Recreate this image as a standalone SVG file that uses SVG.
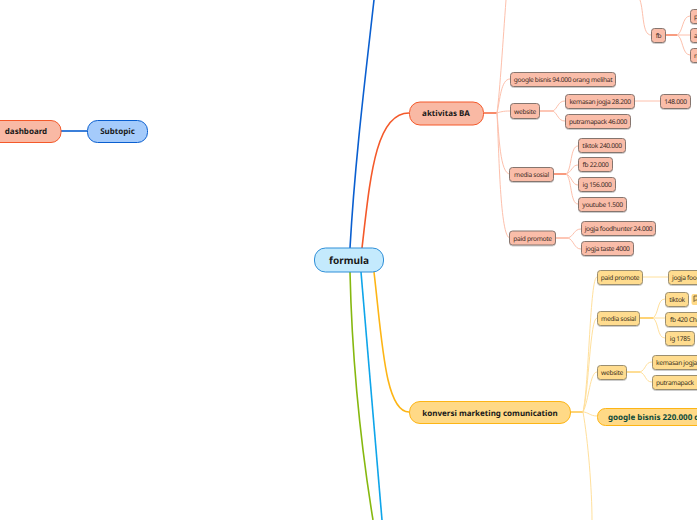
<svg xmlns="http://www.w3.org/2000/svg" width="697" height="520" viewBox="0 0 697 520">
<defs>
<filter id="sh" x="-10%" y="-20%" width="120%" height="150%"><feDropShadow dx="0" dy="1" stdDeviation="0.6" flood-color="#000" flood-opacity="0.2"/></filter>
</defs>
<style>
text{font-family:"Noto Sans","Open Sans","DejaVu Sans",sans-serif;text-anchor:middle;dominant-baseline:central;text-rendering:geometricPrecision}
.s rect{fill:#fabda9;stroke:#85746e;stroke-width:1;filter:url(#sh)}
.s text{font-size:6.600px;letter-spacing:-0.300px;fill:#3a2a25}
.y rect{fill:#ffdc8f;stroke:#9a8e70;stroke-width:1;filter:url(#sh)}
.y text{font-size:6.600px;letter-spacing:-0.300px;fill:#3a3020}
.m text{font-size:8px;font-weight:700;fill:#1a1a1a}
path{fill:none}
.o{stroke:#fdc0ac;stroke-width:1}
.od{stroke:#f4592a;stroke-width:1.200}
.l{stroke:#ffe09c;stroke-width:1}
.ld{stroke:#fdbb2a;stroke-width:1.300}
</style>
<g id="connectors">
<path d="M350 248C355 160 365 80 374 0" stroke="#0a5fd0" stroke-width="1.600"/>
<path d="M362 248C370 180 375 113 409 113" stroke="#f4592a" stroke-width="1.600"/>
<path d="M374 272C382 340 385 412 409 412" stroke="#fdb515" stroke-width="1.600"/>
<path d="M361 272L382 520" stroke="#0ea5ea" stroke-width="1.600"/>
<path d="M350 272C352 360 360 440 373 520" stroke="#86b80f" stroke-width="1.600"/>
<path d="M61 131H87" stroke="#0a5fd0" stroke-width="1.600"/>
<path d="M484 113H497" stroke="#f4592a" stroke-width="1.400"/>
<path d="M497 113C500 90 503 40 506 0M497 113C500 100 501 79 510 79M497 113C500 112 503 111 510 111M497 113C499 135 500 174 510 174M497 113C499 150 500 238 510 238" class="o"/>
<path d="M640 0C644 12 642 35 651 35" class="o"/>
<path d="M665 35H677" class="od"/>
<path d="M677 35C683 33 682 16 690 16M677 35H690M677 35C683 37 682 55 690 55" class="o"/>
<path d="M540 111H553" stroke="#fdb39c" stroke-width="1.500"/>
<path d="M553 111C558 108 558 101 565 101M553 111C558 114 558 121 565 121M635 101H660" class="o"/>
<path d="M554 174H566" class="od"/>
<path d="M566 174C572 170 570 146 578 146M566 174C572 172 572 165 578 165M566 174C572 176 572 185 578 185M566 174C572 178 570 204 578 204" class="o"/>
<path d="M556 238H568" stroke="#fdb39c" stroke-width="1.500"/>
<path d="M568 238C574 236 574 229 581 229M568 238C574 240 574 249 581 249" class="o"/>
<path d="M571 412H583" class="ld"/>
<path d="M583 412C589 385 590 277 597 277M583 412C589 390 590 318 597 318M583 412C589 400 590 372 597 372M583 412C588 412 590 416 597 416M583 412C588 440 592 490 592 520" class="l"/>
<path d="M643 277H668" class="l"/>
<path d="M640 318H653" class="ld"/>
<path d="M653 318C659 314 657 299 665 299M653 318H665M653 318C659 322 657 338 665 338" class="l"/>
<path d="M627 372H640" stroke="#fdbb2a" stroke-width="1"/>
<path d="M640 372C646 370 645 362 652 362M640 372C646 374 645 382 652 382" class="l"/>
</g>
<g id="n-formula" class="m"><rect x="314.500" y="248" width="69" height="24" rx="11" fill="#c4eafd" stroke="#2f8fd8" stroke-width="1"/><text x="349" y="260" style="font-size:10px">formula</text></g>
<g id="n-dashboard" class="m"><rect x="-30" y="120.500" width="91" height="22" rx="10" fill="#f9b9a4" stroke="#f4592a" stroke-width="1"/><text x="26" y="131">dashboard</text></g>
<g id="n-subtopic" class="m"><rect x="87.500" y="120.500" width="60" height="22" rx="10" fill="#a5cbfb" stroke="#0a5fd0" stroke-width="1"/><text x="117.500" y="131">Subtopic</text></g>
<g id="n-aktivitas" class="m"><rect x="409.500" y="102" width="74" height="23" rx="10.500" fill="#f9b9a4" stroke="#f4592a" stroke-width="1"/><text x="446" y="113">aktivitas BA</text></g>
<g id="n-konversi" class="m"><rect x="409.500" y="401.500" width="161" height="22" rx="10.500" fill="#ffd986" stroke="#fdb515" stroke-width="1"/><text x="490" y="413">konversi marketing comunication</text></g>
<g id="n-google2" class="m"><rect x="597.500" y="408.500" width="130" height="17" rx="8" fill="#ffd986" stroke="#fdb515" stroke-width="1"/><text x="608" y="417" style="text-anchor:start;fill:#0d4a3a">google bisnis 220.000 orang</text></g>
<g id="n-fb" class="s"><rect x="651.500" y="28.500" width="14" height="14" rx="3"/><text x="658.500" y="35.500">fb</text></g>
<g id="n-fb1" class="s"><rect x="690.500" y="9.500" width="30" height="14" rx="3"/><text x="694" y="16.500" style="text-anchor:start">p</text></g>
<g id="n-fb2" class="s"><rect x="690.500" y="28.500" width="30" height="14" rx="3"/><text x="694" y="35.500" style="text-anchor:start">a</text></g>
<g id="n-fb3" class="s"><rect x="690.500" y="48.500" width="30" height="14" rx="3"/><text x="694" y="55.500" style="text-anchor:start">n</text></g>
<g id="n-google1" class="s"><rect x="510.500" y="72.500" width="105" height="14" rx="3"/><text x="563" y="79.500">google bisnis 94.000 orang melihat</text></g>
<g id="n-website1" class="s"><rect x="510.500" y="103.500" width="29" height="15" rx="3"/><text x="525" y="111">website</text></g>
<g id="n-kemasan1" class="s"><rect x="565.500" y="94.500" width="69" height="14" rx="3"/><text x="600" y="101.500">kemasan jogja 28.200</text></g>
<g id="n-148" class="s"><rect x="660.500" y="94.500" width="30" height="14" rx="3"/><text x="675.500" y="101.500">148.000</text></g>
<g id="n-putra1" class="s"><rect x="565.500" y="114.500" width="65" height="14" rx="3"/><text x="598" y="121.500">putramapack 46.000</text></g>
<g id="n-media1" class="s"><rect x="509.500" y="167.500" width="44" height="14" rx="3"/><text x="531.500" y="174.500">media sosial</text></g>
<g id="n-tiktok1" class="s"><rect x="578.500" y="138.500" width="47" height="14" rx="3"/><text x="602" y="145.500">tiktok 240.000</text></g>
<g id="n-fb22" class="s"><rect x="578.500" y="157.500" width="34" height="14" rx="3"/><text x="595.500" y="164.500">fb 22.000</text></g>
<g id="n-ig1" class="s"><rect x="578.500" y="177.500" width="37" height="14" rx="3"/><text x="597" y="184.500">ig 156.000</text></g>
<g id="n-yt" class="s"><rect x="578.500" y="197.500" width="48" height="14" rx="3"/><text x="602.500" y="204.500">youtube 1.500</text></g>
<g id="n-paid1" class="s"><rect x="509.500" y="231" width="46" height="14" rx="3"/><text x="532.500" y="238">paid promote</text></g>
<g id="n-foodhunter" class="s"><rect x="581.500" y="221.500" width="74" height="14" rx="3"/><text x="618.500" y="228.500">jogja foodhunter 24.000</text></g>
<g id="n-taste" class="s"><rect x="581.500" y="241.500" width="52" height="14" rx="3"/><text x="607.500" y="248.500">jogja taste 4000</text></g>
<g id="n-paid2" class="y"><rect x="597.500" y="270.500" width="45" height="14" rx="3"/><text x="620" y="277.500">paid promote</text></g>
<g id="n-foo" class="y"><rect x="668.500" y="270.500" width="60" height="14" rx="3"/><text x="672" y="277.500" style="text-anchor:start">jogja foodhunter</text></g>
<g id="n-media2" class="y"><rect x="597.500" y="311.500" width="42" height="14" rx="3"/><text x="618.500" y="318.500">media sosial</text></g>
<g id="n-tiktok2" class="y"><rect x="665.500" y="292.500" width="23" height="14" rx="3"/><text x="677" y="299.500">tiktok</text></g>
<g id="n-note"><rect x="691.500" y="294" width="12" height="11" rx="2" fill="#ffd986"/><path d="M694 296h5v4h-3.500l-1.500 1.500z" stroke="#5a4a2a" stroke-width="0.800"/></g>
<g id="n-fb420" class="y"><rect x="665.500" y="312.500" width="60" height="14" rx="3"/><text x="670" y="319.500" style="text-anchor:start">fb 420 Chat</text></g>
<g id="n-ig2" class="y"><rect x="665.500" y="331.500" width="29" height="14" rx="3"/><text x="680" y="338.500">ig 1785</text></g>
<g id="n-website2" class="y"><rect x="597.500" y="365.500" width="29" height="14" rx="3"/><text x="612" y="372.500">website</text></g>
<g id="n-kemasan2" class="y"><rect x="652.500" y="355.500" width="70" height="14" rx="3"/><text x="656" y="362.500" style="text-anchor:start">kemasan jogja</text></g>
<g id="n-putra2" class="y"><rect x="652.500" y="375.500" width="70" height="14" rx="3"/><text x="656" y="382.500" style="text-anchor:start">putramapack</text></g>
</svg>
